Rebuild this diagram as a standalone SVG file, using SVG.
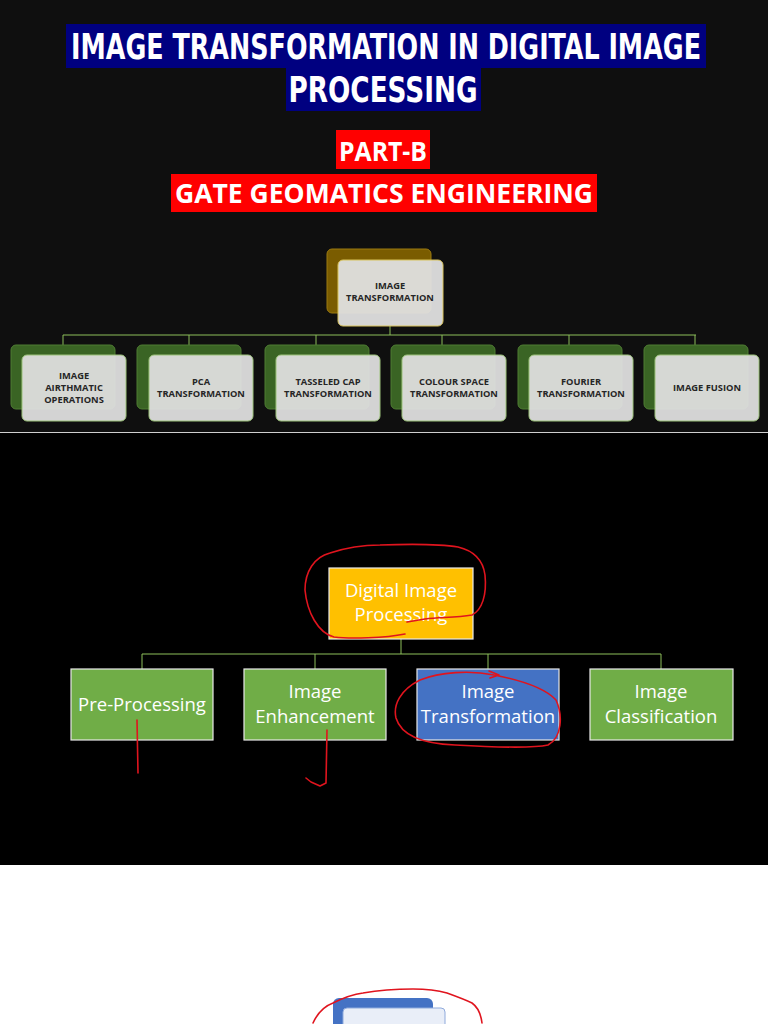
<svg xmlns="http://www.w3.org/2000/svg" width="768" height="1024" viewBox="0 0 768 1024">
<defs>
<style>
.ttl{font-family:"DejaVu Sans Condensed","DejaVu Sans",sans-serif;font-weight:bold;font-size:36px;fill:#fff;text-anchor:middle;font-stretch:condensed}
.sub{font-family:"Open Sans","Liberation Sans",sans-serif;font-weight:bold;font-size:27px;fill:#fff;text-anchor:middle}
.back{fill:#3a6424;stroke:#4f7d33;stroke-width:1}
.front{fill:#dedede;fill-opacity:0.95;stroke:#9cc27a;stroke-width:1}
.lbl{font-family:"Open Sans","Liberation Sans",sans-serif;font-weight:bold;font-size:9.3px;fill:#262626;text-anchor:middle}
.conn{stroke:#8dbf5a;stroke-width:1;fill:none}
.box{stroke:#e8e8e8;stroke-width:1.2}
.wl{font-family:"Open Sans","Liberation Sans",sans-serif;font-size:18.5px;fill:#fff;text-anchor:middle}
.ink{fill:none;stroke:#e0141e;stroke-width:1.6;stroke-linecap:round;stroke-linejoin:round}
</style>
</defs>
<!-- slide 1 background -->
<rect x="0" y="0" width="768" height="432" fill="#0f0f0f"/>
<rect x="0" y="432" width="768" height="1" fill="#cfcfcf"/>
<!-- slide 2 background -->
<rect x="0" y="433" width="768" height="432" fill="#000"/>
<rect x="0" y="865" width="768" height="159" fill="#fff"/>

<!-- titles -->
<g id="title">
<rect x="66" y="24" width="640" height="44" fill="#000080"/>
<rect x="286" y="68" width="195" height="43" fill="#000080"/>
<text class="ttl" x="386" y="59" textLength="630" lengthAdjust="spacingAndGlyphs">IMAGE TRANSFORMATION IN DIGITAL IMAGE</text>
<text class="ttl" x="383" y="102" textLength="189" lengthAdjust="spacingAndGlyphs">PROCESSING</text>
</g>
<g id="partb">
<rect x="336" y="130" width="94" height="39" fill="#ff0000"/>
<text class="sub" x="383" y="161" textLength="88" lengthAdjust="spacingAndGlyphs">PART-B</text>
</g>
<g id="gate">
<rect x="171" y="174" width="426" height="38" fill="#ff0000"/>
<text class="sub" x="384" y="203" textLength="418" lengthAdjust="spacingAndGlyphs">GATE GEOMATICS ENGINEERING</text>
</g>

<!-- connectors slide 1 -->
<g id="connectors1">
<path class="conn" d="M390 326 V335 M63 335 H696 M63 335 V345 M189 335 V345 M316 335 V345 M442 335 V345 M569 335 V345 M695 335 V345"/>
</g>

<g id="n-root">
<rect x="327" y="249" width="104" height="64" rx="5" fill="#7a5c00" stroke="#9c7a10"/>
<rect x="338" y="260" width="105" height="66" rx="5" fill="#e0e0e0" fill-opacity="0.95" stroke="#d8c25a"/>
<text class="lbl" x="390" y="289">IMAGE</text>
<text class="lbl" x="390" y="301">TRANSFORMATION</text>
</g>
<g id="n-arith">
<rect class="back" x="11" y="345" width="104" height="64" rx="5"/>
<rect class="front" x="22" y="355" width="104" height="66" rx="5"/>
<text class="lbl" x="74" y="379">IMAGE</text>
<text class="lbl" x="74" y="391">AIRTHMATIC</text>
<text class="lbl" x="74" y="403">OPERATIONS</text>
</g>
<g id="n-pca">
<rect class="back" x="137" y="345" width="104" height="64" rx="5"/>
<rect class="front" x="149" y="355" width="104" height="66" rx="5"/>
<text class="lbl" x="201" y="385">PCA</text>
<text class="lbl" x="201" y="397">TRANSFORMATION</text>
</g>
<g id="n-tass">
<rect class="back" x="265" y="345" width="104" height="64" rx="5"/>
<rect class="front" x="276" y="355" width="104" height="66" rx="5"/>
<text class="lbl" x="328" y="385">TASSELED CAP</text>
<text class="lbl" x="328" y="397">TRANSFORMATION</text>
</g>
<g id="n-colour">
<rect class="back" x="391" y="345" width="104" height="64" rx="5"/>
<rect class="front" x="402" y="355" width="104" height="66" rx="5"/>
<text class="lbl" x="454" y="385">COLOUR SPACE</text>
<text class="lbl" x="454" y="397">TRANSFORMATION</text>
</g>
<g id="n-fourier">
<rect class="back" x="518" y="345" width="104" height="64" rx="5"/>
<rect class="front" x="529" y="355" width="104" height="66" rx="5"/>
<text class="lbl" x="581" y="385">FOURIER</text>
<text class="lbl" x="581" y="397">TRANSFORMATION</text>
</g>
<g id="n-fusion">
<rect class="back" x="644" y="345" width="104" height="64" rx="5"/>
<rect class="front" x="655" y="355" width="104" height="66" rx="5"/>
<text class="lbl" x="707" y="391">IMAGE FUSION</text>
</g>

<!-- slide 2 -->
<g id="connectors2">
<path class="conn" stroke="#6aa040" d="M401 639 V654 M142 654 H661 M142 654 V669 M315 654 V669 M488 654 V669 M661 654 V669"/>
</g>
<g id="n-dip">
<rect class="box" x="329" y="568" width="144" height="71" fill="#ffc000"/>
<text class="wl" x="401" y="597">Digital Image</text>
<text class="wl" x="401" y="621">Processing</text>
</g>
<g id="n-pre">
<rect class="box" x="71" y="669" width="142" height="71" fill="#70ad47"/>
<text class="wl" x="142" y="711">Pre-Processing</text>
</g>
<g id="n-enh">
<rect class="box" x="244" y="669" width="142" height="71" fill="#70ad47"/>
<text class="wl" x="315" y="698">Image</text>
<text class="wl" x="315" y="723">Enhancement</text>
</g>
<g id="n-trans">
<rect class="box" x="417" y="669" width="142" height="71" fill="#4472c4"/>
<text class="wl" x="488" y="698">Image</text>
<text class="wl" x="488" y="723">Transformation</text>
</g>
<g id="n-class">
<rect class="box" x="590" y="669" width="143" height="71" fill="#70ad47"/>
<text class="wl" x="661" y="698">Image</text>
<text class="wl" x="661" y="723">Classification</text>
</g>

<!-- ink annotations -->
<g id="ink">
<path class="ink" d="M405 634 C385 638 350 639 334 637 C318 633 307 612 305 590 C305 572 314 557 330 553 C345 548 362 545 380 545 C410 544 440 544 458 547 C475 551 483 560 485 575 C487 595 482 610 472 615 C455 618 440 617 425 619 L407 622"/>
<path class="ink" d="M494 675 C470 670 440 672 420 680 C400 690 393 705 396 718 C402 738 430 744 455 745 C490 747 530 749 548 745 C562 738 563 715 556 700 C545 688 520 680 494 675 M489 671 L499 675 L490 678"/>
<path class="ink" d="M137 720 L138 773"/>
<path class="ink" d="M327 730 L326 783 L320 786 L311 782 L306 778"/>
</g>

<!-- slide 3 partial -->
<g id="n-s3">
<rect x="333" y="998" width="100" height="34" rx="6" fill="#4472c4"/>
<rect x="343" y="1008" width="102" height="24" rx="4" fill="#e9eef8" stroke="#8faadc"/>
</g>
<path class="ink" d="M313 1023 C318 1012 325 1006 333 1003 C345 997 355 994 363 993 C380 990 400 989 413 989 C430 989 440 991 447 993 C458 997 466 1000 472 1003 C479 1008 481 1015 482 1023"/>
</svg>
